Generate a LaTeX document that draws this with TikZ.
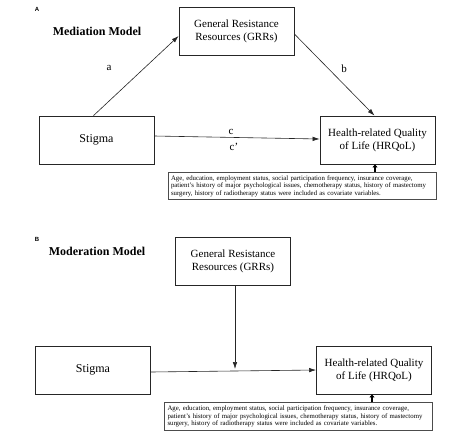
\documentclass[tikz,border=0pt]{standalone}
\usepackage{fontspec}
\setmainfont{Liberation Serif}
\newfontfamily\labfont{Liberation Sans}
\usetikzlibrary{arrows.meta,calc}
\tikzset{
  bx/.style={draw=black!85, line width=0.8pt, minimum width=115pt, minimum height=48pt, inner sep=0pt, align=center, font=\fontsize{11}{13}\selectfont},
  covbox/.style={draw=black!70, line width=1pt, minimum width=268pt, minimum height=26pt, inner sep=3pt, align=left, text width=262pt, font=\fontsize{6.8}{7.4}\selectfont},
  arr/.style={draw=black!85, line width=0.6pt, -{Latex[length=7pt,width=4.5pt]}},
  thickarr/.style={draw=black, line width=1.6pt, -{Triangle[length=3pt,width=5pt]}},
  lbl/.style={font=\fontsize{11}{13}\selectfont, inner sep=0pt},
  ttl/.style={font=\bfseries\fontsize{12}{14}\selectfont, inner sep=0pt},
  pan/.style={font=\labfont\bfseries\fontsize{6}{7}\selectfont, inner sep=0pt}
}
\begin{document}
\begin{tikzpicture}[x=1pt,y=-1pt]
\useasboundingbox[fill=white] (0,0) rectangle (474,440);
% ---------- Panel A ----------
\node[pan] (pA) at (37,9) {A};
\node[ttl] (tA) at (97,31) {Mediation Model};
\node[bx] (grrA) at (236.5,31) {General Resistance\\Resources (GRRs)};
\node[bx] (stigA) at (96.5,140) {\fontsize{12}{14}\selectfont Stigma};
\node[bx] (hrA) at (377.5,140) {Health-related Quality\\of Life (HRQoL)};
\node[covbox] (covA) at (302,186) {Age, education, employment status, social participation frequency, insurance coverage,\\patient's history of major psychological issues, chemotherapy status, history of mastectomy\\surgery, history of radiotherapy status were included as covariate variables.};
\draw[arr] ([xshift=-3pt]stigA.north) -- ([yshift=-5pt]grrA.west);
\draw[arr] ([yshift=-3pt]grrA.east) -- ([xshift=-3pt]hrA.north);
\draw[arr] ([yshift=4pt]stigA.east) -- ([yshift=1pt]hrA.west);
\node[lbl] (la) at (109,68) {a};
\node[lbl] (lb) at (344,69) {b};
\node[lbl] (lc) at (231,132) {c};
\node[lbl] (lcp) at (234,147) {c'};
\draw[thickarr] ([xshift=-2.5pt]hrA.south |- covA.north) -- ([xshift=-2.5pt]hrA.south);
% ---------- Panel B ----------
\node[pan] (pB) at (37,239) {B};
\node[ttl] (tB) at (97,251) {Moderation Model};
\node[bx] (grrB) at (233,261) {General Resistance\\Resources (GRRs)};
\node[bx] (stigB) at (93,370) {\fontsize{12}{14}\selectfont Stigma};
\node[bx] (hrB) at (374,370) {Health-related Quality\\of Life (HRQoL)};
\node[covbox] (covB) at (298.5,416.5) {Age, education, employment status, social participation frequency, insurance coverage,\\patient's history of major psychological issues, chemotherapy status, history of mastectomy\\surgery, history of radiotherapy status were included as covariate variables.};
\coordinate (mB) at (235,369);
\draw[arr] ([yshift=-2pt]stigB.east) -- (hrB.west);
\draw[arr] (grrB.south -| mB) -- (mB);
\draw[thickarr] ([xshift=-2pt]hrB.south |- covB.north) -- ([xshift=-2pt]hrB.south);
\end{tikzpicture}
\end{document}
